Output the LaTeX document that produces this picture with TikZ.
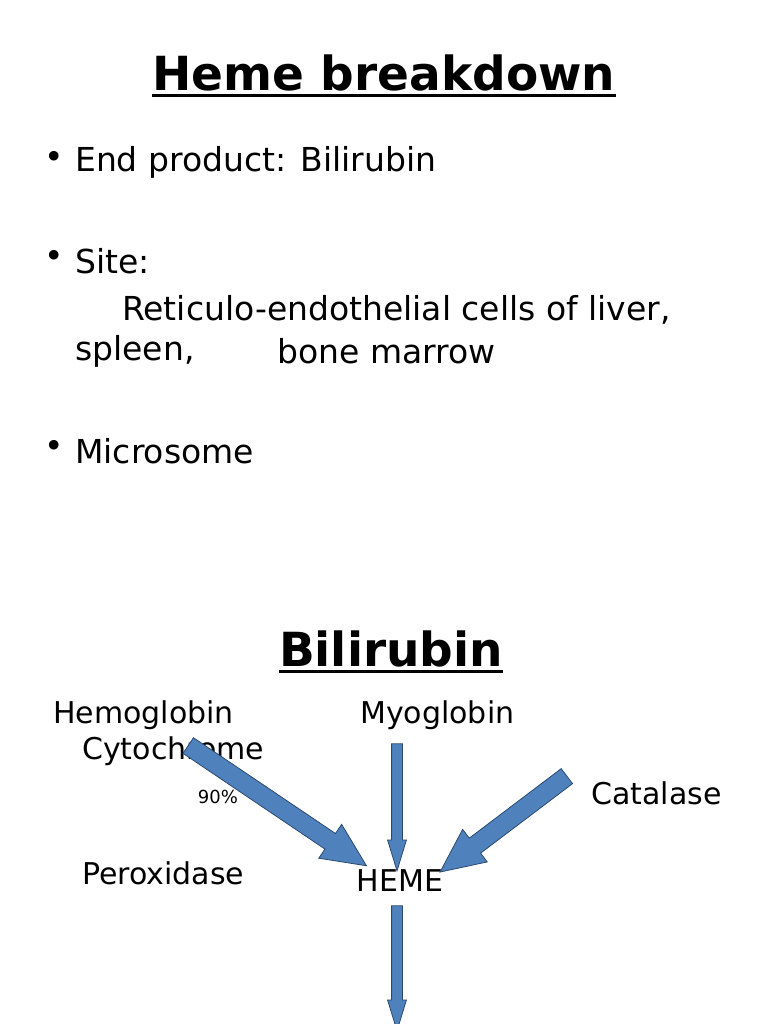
\documentclass[tikz,border=0pt]{standalone}
\usepackage{fontspec}
\setmainfont{DejaVu Sans}
\usetikzlibrary{shapes.arrows}
\definecolor{arrowblue}{HTML}{4F81BD}
\definecolor{arrowline}{HTML}{2C4A6E}
\tikzset{
  txt/.style={inner sep=0pt,anchor=west,font=\fontsize{33}{38}\selectfont},
  lbl/.style={inner sep=0pt,anchor=west,font=\fontsize{30}{34}\selectfont},
  ttl/.style={inner sep=0pt,font=\bfseries\fontsize{47}{52}\selectfont},
  bigarrow/.style={single arrow,draw=arrowline,fill=arrowblue,line width=0.8pt,inner sep=0pt,text height=18pt,text depth=0pt,text width=0pt,single arrow head extend=11pt,single arrow tip angle=50},
  thinarrow/.style={single arrow,draw=arrowline,fill=arrowblue,line width=0.8pt,inner sep=0pt,text height=10pt,text depth=0pt,text width=0pt,single arrow head extend=4pt,single arrow tip angle=34}
}
\begin{document}
\begin{tikzpicture}[x=1pt,y=-1pt]
\useasboundingbox[fill=white] (0,0) rectangle (768,1024);
\node[ttl] (t1) at (384,73) {Heme breakdown};
\draw[line width=2.5pt] ([yshift=-4pt]t1.south west) -- ([yshift=-4pt]t1.south east);
\node[txt] (b1) at (44,160) {•}; \node[txt] (l1) at (75,162) {End product: Bilirubin};
\node[txt] (b2) at (44,259) {•}; \node[txt] (l2) at (75,261) {Site:};
\node[txt] (l3) at (122,310) {Reticulo-endothelial cells of liver,};
\node[txt] (l4) at (75,351) {spleen,};
\node[txt] (l5) at (277,351) {bone marrow};
\node[txt] (b3) at (44,449) {•}; \node[txt] (l6) at (75,451) {Microsome};
\node[ttl] (t2) at (391,649) {Bilirubin};
\draw[line width=2.5pt] ([yshift=-4pt]t2.south west) -- ([yshift=-4pt]t2.south east);
\node[lbl] (hb) at (53,715) {Hemoglobin};
\node[lbl] (cy) at (82,751) {Cytochrome};
\node[lbl] (my) at (360,715) {Myoglobin};
\node[lbl] (ca) at (591,793) {Catalase};
\node[lbl] (px) at (82,873) {Peroxidase};
\node[inner sep=0pt,font=\fontsize{30}{34}\selectfont] (heme) at (400,881) {HEME};
\node[inner sep=0pt,font=\fontsize{18}{20}\selectfont] (pc) at (218,797) {90\%};
\node[bigarrow,minimum height=215pt,rotate=-34] (a1) at (269,800) {};
\node[thinarrow,minimum height=127pt,rotate=-90] (a2) at (397,798.5) {};
\node[bigarrow,minimum height=159pt,rotate=-142.9] (a3) at (511.5,818) {};
\node[thinarrow,minimum height=125pt,rotate=-90] (a4) at (397,959.5) {};
\end{tikzpicture}
\end{document}
